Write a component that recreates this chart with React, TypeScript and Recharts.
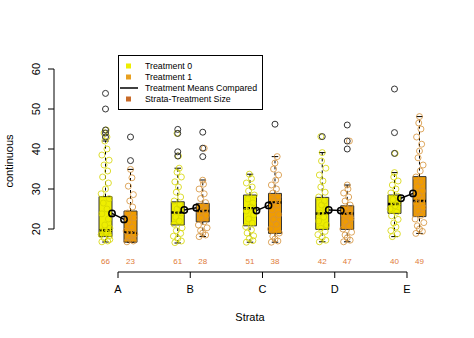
import {
  ComposedChart,
  ReferenceArea,
  ReferenceLine,
  Scatter,
  XAxis,
  YAxis,
} from "recharts";

const strata = ["A", "B", "C", "D", "E"];
const sizes0 = [66, 61, 51, 42, 40];
const sizes1 = [23, 28, 38, 47, 49];
const means0 = [23.9, 24.75, 24.6, 24.75, 27.7];
const means1 = [22.4, 25.3, 25.9, 24.6, 28.9];

// [lower whisker, q1, median, q3, upper whisker]
const box0 = [
  [16.75, 18.1, 19.6, 28.1, 42],
  [16.5, 21, 24.1, 26.8, 35.2],
  [16.7, 20.8, 25.2, 28.5, 33.7],
  [16.8, 19.9, 23.9, 27.9, 39.1],
  [18.1, 23.9, 26.25, 28.5, 34.1],
];
const box1 = [
  [16.7, 16.7, 19.1, 24.5, 34.9],
  [18.1, 21.8, 24.5, 26.4, 32.25],
  [16.7, 18.9, 26.6, 28.9, 38.1],
  [16.8, 19.9, 23.9, 25.8, 31],
  [18.9, 23.1, 27, 33.1, 48.1],
];

const outliers0 = [
  [53.9, 50, 44.75, 44, 43],
  [44.9, 43.9, 39.3, 38.25],
  [],
  [43.1],
  [55, 44.1, 38.9],
];
const outliers1 = [[43, 37.1], [44.2, 40.2, 38.1], [46.2], [46, 42, 40], []];

// [x jitter, value]
const jitter0 = [
  [[-0.05, 16.8], [0.03, 17.0], [0.06, 17.4], [-0.02, 17.8], [0.05, 18.2], [-0.06, 18.6], [0.01, 19.0], [-0.04, 19.5], [0.06, 20.2], [-0.01, 21.0], [0.04, 22.5], [-0.05, 23.8], [0.02, 25.0], [-0.03, 26.5], [0.05, 27.6], [-0.06, 28.8], [0.0, 30.0], [0.04, 31.5], [-0.04, 33.0], [0.03, 34.5], [-0.02, 36.0], [0.05, 37.2], [-0.05, 38.5], [0.02, 40.0], [-0.01, 42.0], [0.02, 43], [-0.02, 44], [0.01, 44.75]],
  [[-0.04, 16.6], [0.05, 17.0], [0.0, 17.6], [-0.06, 18.2], [0.04, 18.9], [-0.02, 19.6], [0.06, 20.3], [-0.05, 21.2], [0.02, 22.0], [-0.03, 23.0], [0.05, 24.0], [-0.01, 25.0], [0.03, 26.0], [-0.05, 27.0], [0.04, 28.0], [-0.02, 29.2], [0.01, 30.5], [-0.04, 31.8], [0.05, 33.0], [-0.01, 34.2], [0.02, 35.2], [0.01, 38.25], [-0.01, 43.9]],
  [[-0.05, 16.7], [0.04, 17.1], [-0.01, 17.6], [0.05, 18.3], [-0.04, 19.0], [0.02, 19.8], [-0.06, 20.6], [0.03, 21.5], [-0.02, 22.5], [0.05, 23.5], [-0.05, 24.5], [0.01, 25.5], [0.04, 26.5], [-0.03, 27.5], [0.06, 28.5], [-0.02, 29.5], [0.03, 30.5], [-0.05, 31.5], [0.02, 32.6], [-0.01, 33.7]],
  [[-0.04, 16.8], [0.05, 17.2], [0.0, 17.9], [-0.06, 18.6], [0.04, 19.4], [-0.02, 20.2], [0.06, 21.0], [-0.05, 22.0], [0.02, 23.0], [-0.03, 24.0], [0.05, 25.0], [-0.01, 26.0], [0.03, 27.0], [-0.05, 28.0], [0.04, 29.2], [-0.02, 30.5], [0.01, 32.0], [-0.04, 33.5], [0.05, 35.2], [-0.01, 37.0], [0.0, 39.1], [-0.02, 43.1]],
  [[-0.03, 18.1], [0.04, 18.8], [-0.05, 19.6], [0.02, 20.5], [-0.01, 21.5], [0.05, 22.4], [-0.04, 23.3], [0.03, 24.2], [-0.06, 25.0], [0.01, 25.8], [0.05, 26.6], [-0.02, 27.4], [0.04, 28.2], [-0.05, 29.0], [0.02, 30.0], [-0.03, 31.0], [0.05, 32.0], [-0.01, 33.0], [0.0, 34.1], [0.01, 38.9]],
];
const jitter1 = [
  [[-0.05, 16.8], [0.04, 17.0], [0.0, 17.4], [-0.03, 18.0], [0.06, 18.7], [-0.06, 19.5], [0.02, 20.5], [-0.02, 21.6], [0.05, 22.8], [-0.04, 24.0], [0.03, 25.5], [-0.01, 27.0], [0.04, 28.6], [-0.03, 30.7], [0.02, 32.8], [0.0, 34.9]],
  [[-0.05, 18.1], [0.04, 18.5], [0.0, 19.0], [-0.03, 19.6], [0.06, 20.3], [-0.06, 21.0], [0.02, 21.8], [-0.02, 22.6], [0.05, 23.4], [-0.04, 24.2], [0.03, 25.0], [-0.01, 25.8], [0.04, 26.6], [-0.03, 27.6], [0.02, 28.8], [-0.05, 30.0], [0.01, 31.2], [0.0, 32.2], [0.02, 40.2]],
  [[-0.05, 16.7], [0.04, 17.0], [0.0, 17.5], [-0.03, 18.2], [0.06, 19.0], [-0.06, 20.0], [0.02, 21.2], [-0.02, 22.4], [0.05, 23.6], [-0.04, 24.8], [0.03, 26.0], [-0.01, 27.0], [0.04, 28.0], [-0.03, 29.0], [0.02, 30.0], [-0.05, 31.0], [0.01, 32.2], [0.05, 33.5], [-0.02, 35.0], [0.0, 36.5], [0.03, 38.1]],
  [[-0.05, 16.8], [0.04, 17.2], [0.0, 17.8], [-0.03, 18.5], [0.06, 19.2], [-0.06, 20.0], [0.02, 20.8], [-0.02, 21.7], [0.05, 22.6], [-0.04, 23.5], [0.03, 24.4], [-0.01, 25.2], [0.04, 26.0], [-0.03, 27.0], [0.02, 28.0], [-0.05, 29.0], [0.01, 30.0], [0.0, 31.0], [0.03, 42]],
  [[-0.05, 18.9], [0.04, 19.4], [0.0, 20.0], [-0.03, 20.8], [0.06, 21.6], [-0.06, 22.5], [0.02, 23.4], [-0.02, 24.4], [0.05, 25.4], [-0.04, 26.4], [0.03, 27.4], [-0.01, 28.4], [0.04, 29.5], [-0.03, 30.6], [0.02, 31.8], [-0.05, 33.0], [0.01, 34.5], [0.05, 36.0], [-0.02, 37.8], [0.0, 39.5], [0.03, 41.2], [-0.04, 43.0], [0.02, 45.0], [-0.01, 46.5], [0.0, 48.1]],
];

const yTicks = [20, 30, 40, 50, 60];

const FONT = "'Liberation Sans', Arial, Helvetica, sans-serif";
const X_DOMAIN: [number, number] = [0.114, 5.457];
const Y_DOMAIN: [number, number] = [9.25, 64.75];
const OFFSET = 0.173; // box centre distance from stratum position
const HALF = 0.09; // half box width
const COUNT_Y = 11.9;

const fill0 = "#EEEE00";
const fill1 = "#F09C00";
const pt0 = "#D6D600";
const pt1 = "#D6923A";
const countColor = "#E07B39";

const groups = [
  { side: -1, box: box0, out: outliers0, jit: jitter0, n: sizes0, fill: fill0, pt: pt0 },
  { side: 1, box: box1, out: outliers1, jit: jitter1, n: sizes1, fill: fill1, pt: pt1 },
];

function boxElements() {
  const els: any[] = [];
  groups.forEach((g, gi) => {
    g.box.forEach(([lo, q1, med, q3, hi], i) => {
      const c = i + 1 + g.side * OFFSET;
      const k = `${gi}-${i}`;
      els.push(
        <ReferenceLine key={`wu${k}`} segment={[{ x: c, y: q3 }, { x: c, y: hi }]} stroke="#000" strokeDasharray="3 3" ifOverflow="visible" />,
        <ReferenceLine key={`wl${k}`} segment={[{ x: c, y: lo }, { x: c, y: q1 }]} stroke="#000" strokeDasharray="3 3" ifOverflow="visible" />,
        <ReferenceLine key={`cu${k}`} segment={[{ x: c - HALF / 2, y: hi }, { x: c + HALF / 2, y: hi }]} stroke="#000" ifOverflow="visible" />,
        <ReferenceLine key={`cl${k}`} segment={[{ x: c - HALF / 2, y: lo }, { x: c + HALF / 2, y: lo }]} stroke="#000" ifOverflow="visible" />,
        <ReferenceArea key={`b${k}`} x1={c - HALF} x2={c + HALF} y1={q1} y2={q3} fill={g.fill} fillOpacity={1} stroke="#333" strokeWidth={1} ifOverflow="visible" />,
        <ReferenceLine key={`m${k}`} segment={[{ x: c - HALF, y: med }, { x: c + HALF, y: med }]} stroke="#000" strokeWidth={2.5} strokeDasharray="2.5 1.5" ifOverflow="visible" />
      );
    });
  });
  return els;
}

const pointData = groups.map((g) =>
  g.jit.flatMap((pts, i) => pts.map(([dx, v]) => ({ x: i + 1 + g.side * OFFSET + dx, y: v })))
);
const outlierData = groups.map((g) =>
  g.out.flatMap((vals, i) => vals.map((v) => ({ x: i + 1 + g.side * OFFSET, y: v })))
);
const countData = groups.flatMap((g) =>
  g.n.map((n, i) => ({ x: i + 1 + g.side * OFFSET, y: COUNT_Y, n }))
);
const meanData = strata.map((_, i) => [
  { x: i + 1 - (OFFSET - HALF), y: means0[i] },
  { x: i + 1 + (OFFSET - HALF), y: means1[i] },
]);

const YTick = ({ y, payload }: any) => (
  <text x={40} y={y} transform={`rotate(-90 40 ${y})`} textAnchor="middle" fontSize={11} fontFamily={FONT} fill="#000">
    {payload.value}
  </text>
);

const XTick = ({ x, payload }: any) => (
  <text x={x} y={293} textAnchor="middle" fontSize={11} fontFamily={FONT} fill="#000">
    {strata[payload.value - 1]}
  </text>
);

function Legend() {
  const rows = [
    { label: "Treatment 0", kind: "sq", color: fill0 },
    { label: "Treatment 1", kind: "sq", color: "#E8A020" },
    { label: "Treatment Means Compared", kind: "line", color: "#000" },
    { label: "Strata-Treatment Size", kind: "sq", color: "#C86A28" },
  ];
  return (
    <svg width={474} height={338} style={{ position: "absolute", left: 0, top: 0, pointerEvents: "none" }}>
      <rect x={118.5} y={55.5} width={144} height={54} fill="#fff" stroke="#000" strokeWidth={1} />
      {rows.map((r, i) => {
        const y = 66 + i * 11;
        return (
          <g key={r.label}>
            {r.kind === "sq" ? (
              <rect x={126} y={y - 2.5} width={5} height={5} fill={r.color} />
            ) : (
              <line x1={120} x2={138} y1={y} y2={y} stroke="#000" strokeWidth={1.5} />
            )}
            <text x={145} y={y + 3.2} fontSize={8.8} fontFamily={FONT} fill="#000">
              {r.label}
            </text>
          </g>
        );
      })}
      <text x={13} y={161} transform="rotate(-90 13 161)" textAnchor="middle" fontSize={11} fontFamily={FONT}>
        continuous
      </text>
      <text x={250} y={321} textAnchor="middle" fontSize={11} fontFamily={FONT}>
        Strata
      </text>
    </svg>
  );
}

export default function App() {
  return (
    <div style={{ position: "absolute", left: 0, top: 0, width: 474, height: 338, background: "#fff" }}>
      <ComposedChart width={474} height={338} margin={{ top: 50, right: 34, bottom: 0, left: 0 }}>
        <XAxis
          type="number"
          dataKey="x"
          domain={X_DOMAIN}
          ticks={[1, 2, 3, 4, 5]}
          allowDataOverflow
          axisLine={false}
          tickLine={{ stroke: "#000" }}
          tickSize={6}
          tick={<XTick />}
          height={66}
        />
        <YAxis
          type="number"
          dataKey="y"
          domain={Y_DOMAIN}
          ticks={yTicks}
          allowDataOverflow
          axisLine={false}
          tickLine={{ stroke: "#000" }}
          tickSize={6}
          tick={<YTick />}
          width={54}
        />
        <ReferenceLine segment={[{ x: X_DOMAIN[0], y: 20 }, { x: X_DOMAIN[0], y: 60 }]} stroke="#000" ifOverflow="visible" />
        <ReferenceLine segment={[{ x: 1, y: Y_DOMAIN[0] }, { x: 5, y: Y_DOMAIN[0] }]} stroke="#000" ifOverflow="visible" />
        {boxElements()}
        {pointData.map((d, gi) => (
          <Scatter
            key={`p${gi}`}
            data={d}
            isAnimationActive={false}
            shape={(p: any) => (
              <circle cx={p.cx} cy={p.cy} r={3} fill="none" stroke={groups[gi].pt} strokeOpacity={0.8} strokeWidth={1} />
            )}
          />
        ))}
        {outlierData.map((d, gi) => (
          <Scatter
            key={`o${gi}`}
            data={d}
            isAnimationActive={false}
            shape={(p: any) => <circle cx={p.cx} cy={p.cy} r={3} fill="none" stroke="#333" strokeWidth={1} />}
          />
        ))}
        {meanData.map((d, i) => (
          <Scatter
            key={`mean${i}`}
            data={d}
            line={{ stroke: "#000", strokeWidth: 1.5 }}
            isAnimationActive={false}
            shape={(p: any) => <circle cx={p.cx} cy={p.cy} r={3.2} fill="none" stroke="#000" strokeWidth={1.5} />}
          />
        ))}
        <Scatter
          data={countData}
          isAnimationActive={false}
          shape={(p: any) => (
            <text x={p.cx} y={p.cy} textAnchor="middle" dominantBaseline="central" fontSize={8} fontFamily={FONT} fill={countColor}>
              {p.payload.n}
            </text>
          )}
        />
      </ComposedChart>
      <Legend />
    </div>
  );
}
